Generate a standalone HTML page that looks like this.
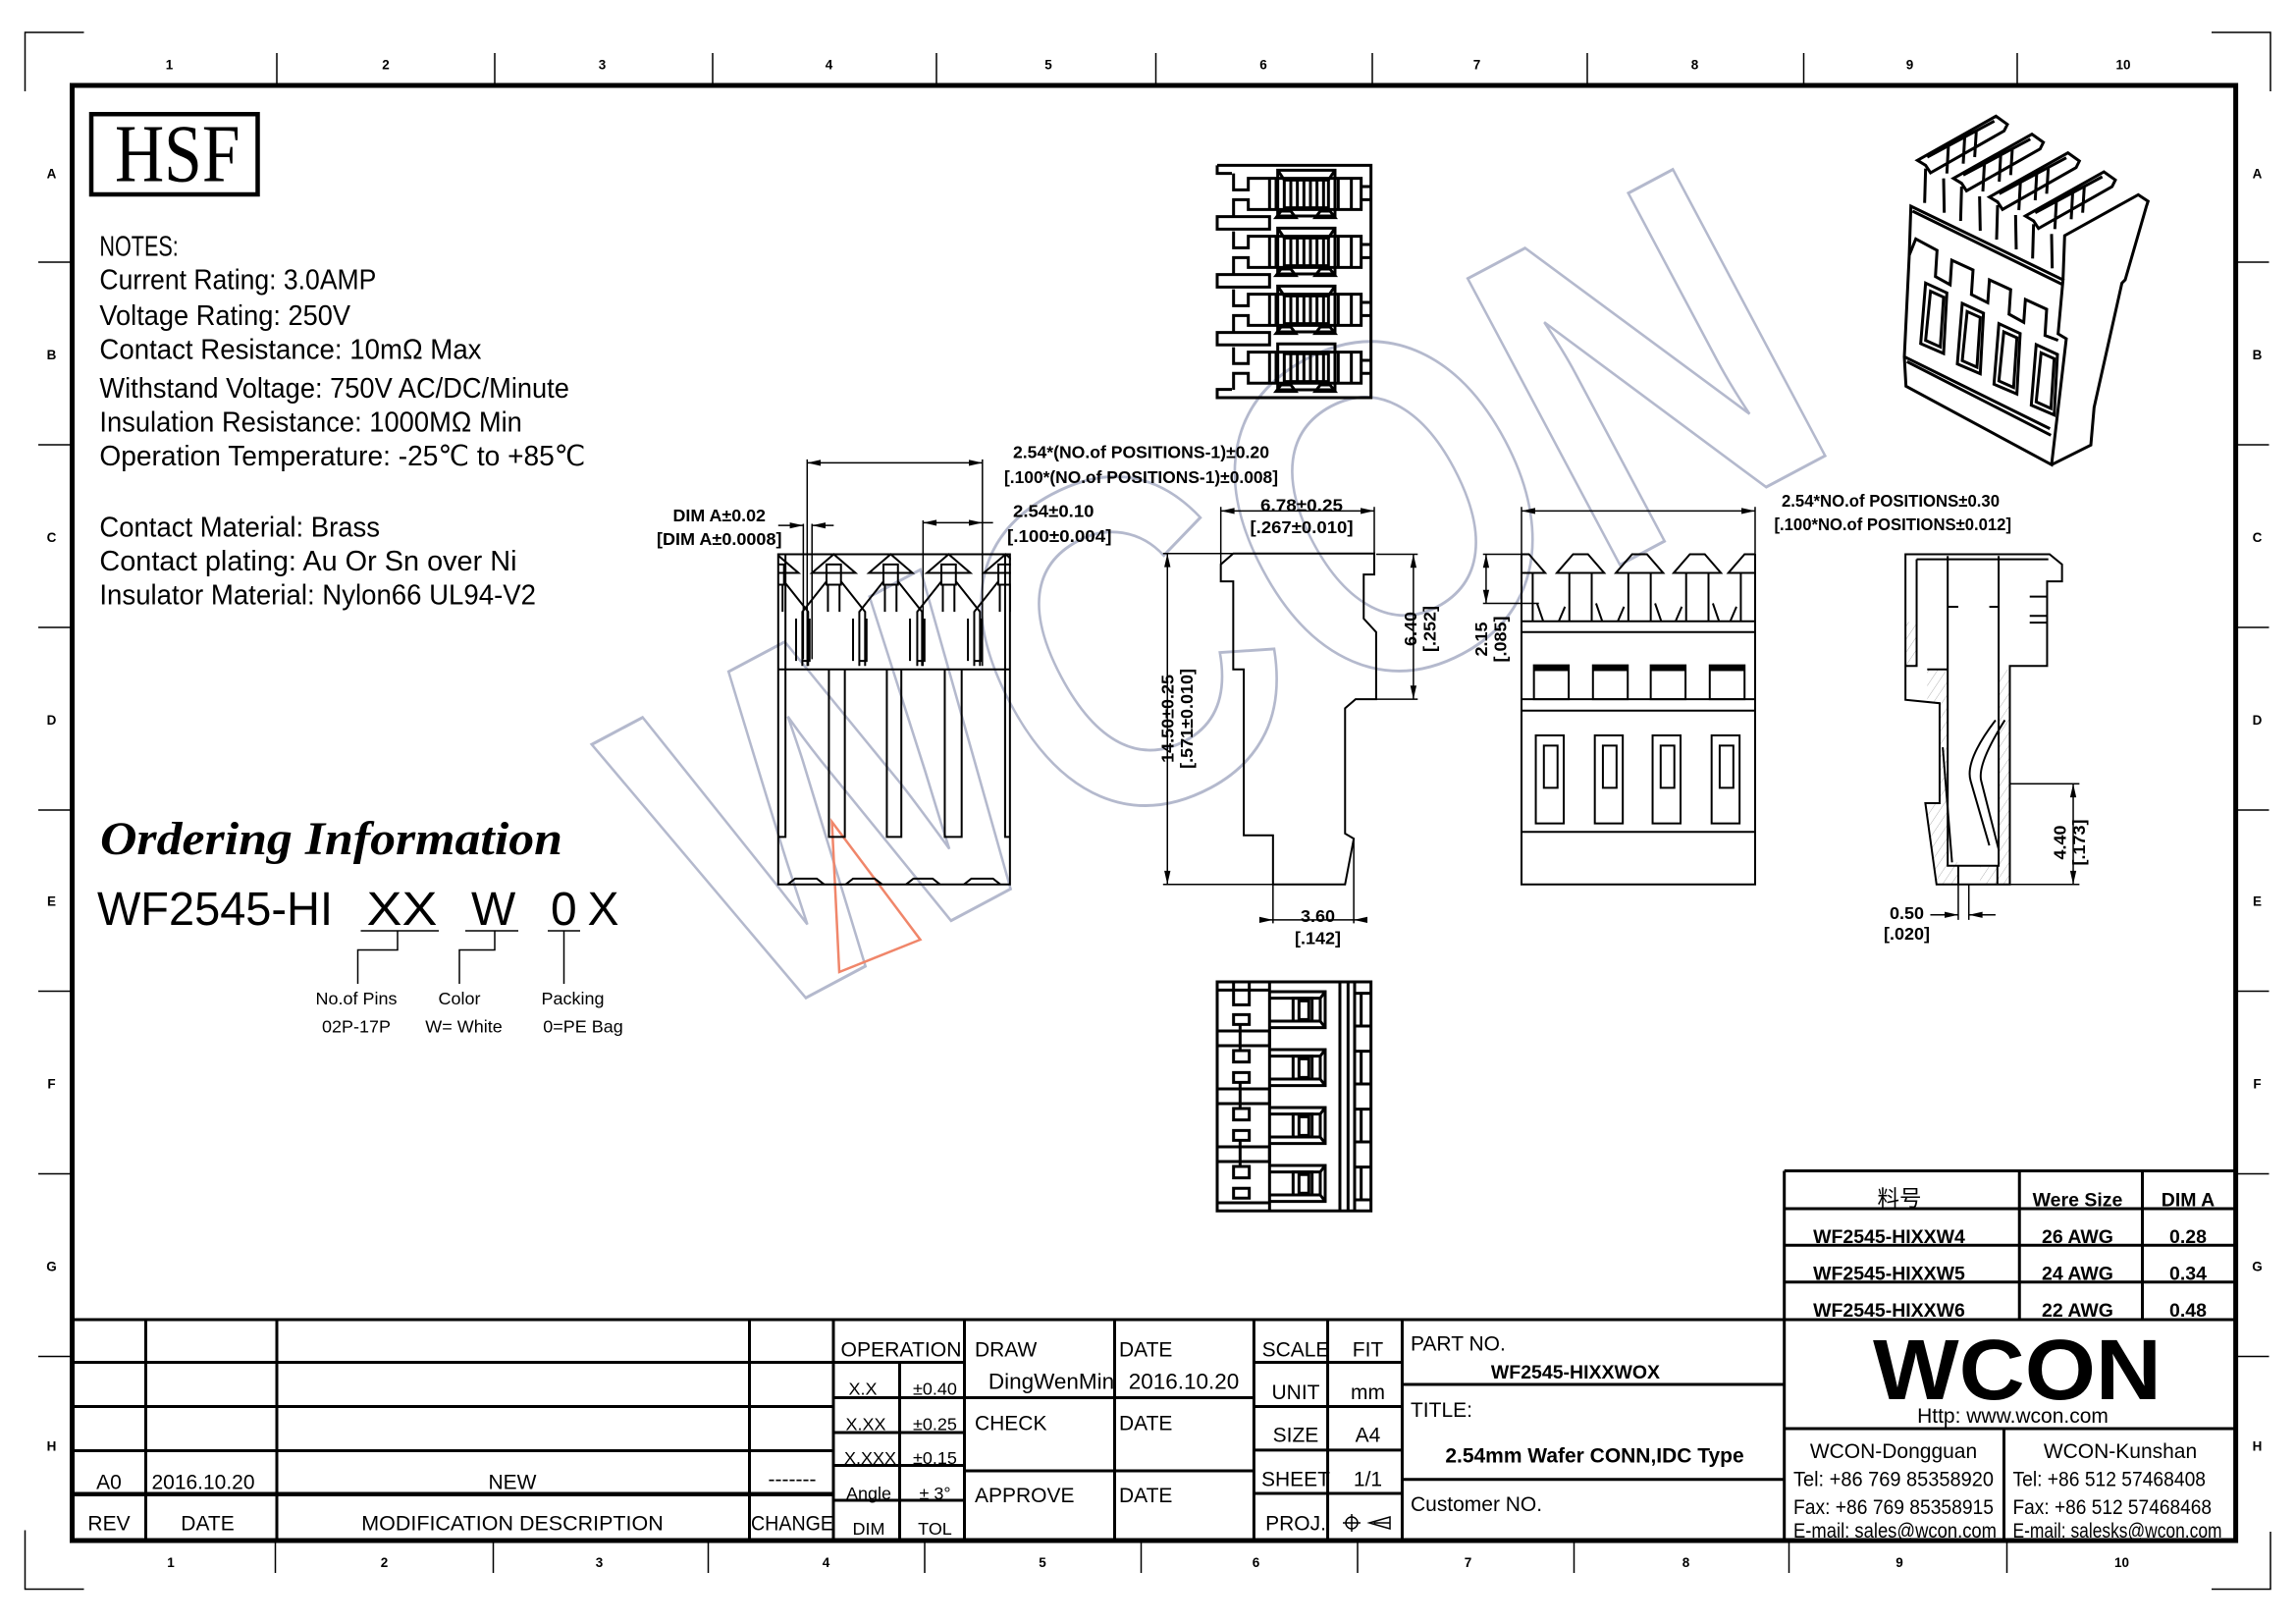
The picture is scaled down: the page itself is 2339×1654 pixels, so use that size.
<!DOCTYPE html>
<html><head><meta charset="utf-8">
<style>
html,body{margin:0;padding:0;background:#fff;}
svg{display:block;}
svg *{vector-effect:non-scaling-stroke;}
.l{fill:none;stroke:#000;stroke-width:2;}
.t{fill:none;stroke:#000;stroke-width:1.5;}
.k{fill:none;stroke:#000;stroke-width:3;}
.b{fill:#000;stroke:none;}
text{font-family:"Liberation Sans",sans-serif;fill:#000;stroke:none;}
.n{font-size:19px;}
.tb{font-size:14px;}
.dm{font-size:12px;font-weight:bold;}
.mo{font-family:"Liberation Mono",monospace;font-weight:bold;font-size:13px;}
.fr{font-family:"Liberation Serif",serif;font-weight:bold;font-size:9px;}
</style></head>
<body>
<svg width="2339" height="1654" viewBox="0 0 1559.33 1102.67" xmlns="http://www.w3.org/2000/svg">
<defs>
<pattern id="h" patternUnits="userSpaceOnUse" width="14" height="40" patternTransform="skewX(-20)">
<line x1="0" y1="0" x2="0" y2="40" stroke="#000" stroke-width="1"/>
</pattern>
<clipPath id="c4"><rect x="632" y="380" width="376" height="220"/></clipPath>
<clipPath id="c3"><rect x="270" y="380" width="482" height="360"/></clipPath>
</defs>

<!-- ===== FRAME ===== -->
<rect x="49" y="58" width="1469.4" height="988" class="l" style="stroke-width:5"/>
<path class="t" d="M17,62 V22 H57 M1542,62 V22 H1502 M17,1039 V1079 H57 M1542,1040 V1079 H1502"/>
<path class="t" d="M188,36 V58 M336,36 V58 M484,36 V58 M636,36 V58 M785,36 V58 M932,36 V58 M1078,36 V58 M1225,36 V58 M1370,36 V58"/>
<path class="t" d="M187,1046 V1068 M335,1046 V1068 M481,1046 V1068 M628,1046 V1068 M775,1046 V1068 M922,1046 V1068 M1069,1046 V1068 M1215,1046 V1068 M1363,1046 V1068"/>
<path class="t" d="M26,178 H49 M26,302 H49 M26,426 H49 M26,550 H49 M26,673 H49 M26,797 H49 M26,921 H49 M1518,178 H1541 M1518,302 H1541 M1518,426 H1541 M1518,550 H1541 M1518,673 H1541 M1518,797 H1541 M1518,921 H1541"/>
<g class="fr" text-anchor="middle">
<text x="115" y="47">1</text><text x="262" y="47">2</text><text x="409" y="47">3</text><text x="563" y="47">4</text><text x="712" y="47">5</text><text x="858" y="47">6</text><text x="1003" y="47">7</text><text x="1151" y="47">8</text><text x="1297" y="47">9</text><text x="1442" y="47">10</text>
<text x="116" y="1064">1</text><text x="261" y="1064">2</text><text x="407" y="1064">3</text><text x="561" y="1064">4</text><text x="708" y="1064">5</text><text x="853" y="1064">6</text><text x="997" y="1064">7</text><text x="1145" y="1064">8</text><text x="1290" y="1064">9</text><text x="1441" y="1064">10</text>
<text x="35" y="121">A</text><text x="35" y="244">B</text><text x="35" y="368">C</text><text x="35" y="492">D</text><text x="35" y="615">E</text><text x="35" y="739">F</text><text x="35" y="863">G</text><text x="35" y="985">H</text>
<text x="1533" y="121">A</text><text x="1533" y="244">B</text><text x="1533" y="368">C</text><text x="1533" y="492">D</text><text x="1533" y="615">E</text><text x="1533" y="739">F</text><text x="1533" y="863">G</text><text x="1533" y="985">H</text>
</g>

<!-- ===== HSF + NOTES ===== -->
<rect x="62" y="77.5" width="113" height="54.5" class="k" style="stroke-width:4.5"/>
<text x="78" y="123" style="font-family:'Liberation Serif',serif;font-size:56px" textLength="85" lengthAdjust="spacingAndGlyphs">HSF</text>
<g class="n">
<text x="67.6" y="173.6" textLength="53.6" lengthAdjust="spacingAndGlyphs">NOTES:</text>
<text x="67.6" y="196.5" textLength="188" lengthAdjust="spacingAndGlyphs">Current Rating: 3.0AMP</text>
<text x="67.6" y="220.7" textLength="170.4" lengthAdjust="spacingAndGlyphs">Voltage Rating: 250V</text>
<text x="67.6" y="243.7" textLength="259.4" lengthAdjust="spacingAndGlyphs">Contact Resistance: 10mΩ Max</text>
<text x="67.6" y="270" textLength="319" lengthAdjust="spacingAndGlyphs">Withstand Voltage: 750V AC/DC/Minute</text>
<text x="67.6" y="293" textLength="287" lengthAdjust="spacingAndGlyphs">Insulation Resistance: 1000MΩ Min</text>
<text x="67.6" y="316" textLength="330" lengthAdjust="spacingAndGlyphs">Operation Temperature: -25℃ to +85℃</text>
<text x="67.6" y="364.4" textLength="190.4" lengthAdjust="spacingAndGlyphs">Contact Material: Brass</text>
<text x="67.6" y="387.4" textLength="283.4" lengthAdjust="spacingAndGlyphs">Contact plating: Au Or Sn over Ni</text>
<text x="67.6" y="410.3" textLength="296.4" lengthAdjust="spacingAndGlyphs">Insulator Material: Nylon66 UL94-V2</text>
</g>

<!-- ===== ORDERING ===== -->
<text x="68" y="580" style="font-family:'Liberation Serif',serif;font-weight:bold;font-style:italic;font-size:32px" textLength="314" lengthAdjust="spacingAndGlyphs">Ordering Information</text>
<g style="font-family:'Liberation Serif',serif;font-size:32px">
<text x="66" y="628" textLength="160" lengthAdjust="spacingAndGlyphs">WF2545-HI</text>
<text x="249" y="628" textLength="48" lengthAdjust="spacingAndGlyphs">XX</text>
<text x="320" y="628">W</text>
<text x="374" y="628">0</text>
<text x="399" y="628">X</text>
</g>
<path class="t" d="M245,632 H298 M270,632 V645 H243 V668 M316,632 H352 M336,632 V645 H312 V668 M372,632 H394 M383,632 V668"/>
<g style="font-family:'Liberation Serif',serif;font-size:12px" text-anchor="middle">
<text x="242" y="682">No.of Pins</text><text x="242" y="701">02P-17P</text>
<text x="312" y="682">Color</text><text x="315" y="701">W= White</text>
<text x="389" y="682">Packing</text><text x="396" y="701">0=PE Bag</text>
</g>

<!-- ===== WATERMARK ===== -->
<text x="0" y="0" transform="translate(505,700) rotate(-28)" style="font-weight:bold;font-size:320px;fill:none;stroke:#b4b9cd;stroke-width:3" textLength="850" lengthAdjust="spacingAndGlyphs">WCON</text>
<polygon points="565,558 625,638 570,660" style="fill:none;stroke:#f0866a;stroke-width:2.5"/>

<!-- ===== FRONT VIEW (G3) ===== -->
<g transform="translate(440,286.67) scale(0.32787,0.22989)">
<rect x="270" y="390" width="480" height="975" class="l"/>
<path class="l" d="M270,730 H750 M285,390 V1225 H270 M740,390 V1225 H750"/>
<g clip-path="url(#c3)">
<g id="pin">
<path class="l" d="M340,445 L385,390 L430,445 Z M370,420 H400 V480 H370 Z M373,480 V560 M397,480 V560 M370,470 L320,560 V720 M400,470 L450,560 V720 M335,580 V705 H320 M425,580 V705"/>
</g>
<use href="#pin" x="-118"/><use href="#pin" x="118"/><use href="#pin" x="238"/><use href="#pin" x="356"/>
</g>
<path class="l" d="M375,730 V1225 H408 V730 M495,730 V1225 H525 V730 M615,730 V1225 H650 V730 M740,730 V1225"/>
<path class="l" d="M290,1365 L305,1348 H350 L365,1365 M410,1365 L425,1348 H470 L485,1365 M535,1365 L550,1348 H590 L605,1365 M655,1365 L670,1348 H715 L730,1365"/>
<!-- dims -->
<path class="t" d="M330,120 H693 M330,110 V720 M693,110 V720 M570,297 H715 M570,290 V720 M270,305 H322 M340,305 H385 M322,300 V700 M340,300 V700"/>
<polygon class="b" points="330,120 358,111 358,129"/><polygon class="b" points="693,120 665,111 665,129"/>
<polygon class="b" points="570,297 598,288 598,306"/><polygon class="b" points="693,297 665,288 665,306"/>
<polygon class="b" points="322,305 294,296 294,314"/><polygon class="b" points="340,305 368,296 368,314"/>
</g>
<g class="dm">
<text x="688" y="311" textLength="174" lengthAdjust="spacingAndGlyphs">2.54*(NO.of POSITIONS-1)±0.20</text>
<text x="682" y="328" textLength="186" lengthAdjust="spacingAndGlyphs">[.100*(NO.of POSITIONS-1)±0.008]</text>
<text x="457" y="354" textLength="63" lengthAdjust="spacingAndGlyphs">DIM A±0.02</text>
<text x="446" y="370" textLength="85" lengthAdjust="spacingAndGlyphs">[DIM A±0.0008]</text>
<text x="688" y="351" textLength="55" lengthAdjust="spacingAndGlyphs">2.54±0.10</text>
<text x="684" y="368" textLength="71" lengthAdjust="spacingAndGlyphs">[.100±0.004]</text>
</g>

<!-- ===== G4: side / third / section ===== -->
<g transform="translate(766.67,286.67) scale(0.42194,0.22989)">
<!-- side -->
<path class="l" d="M168,388 H395 V450 H378 V580 L398,620 V818 H365 L348,845 V1215 L362,1230 L348,1365 H232 V1220 H185 V730 H168 V470 H148 V420 Z"/>
<path class="t" d="M148,262 H395 M148,250 V420 M395,250 V388 M62,388 V1365 M55,388 H168 M55,1365 H232 M458,390 V818 M398,390 H465 M398,818 H465 M215,1470 H380 M232,1365 V1480 M362,1230 V1480"/>
<polygon class="b" points="148,262 170,253 170,271"/><polygon class="b" points="395,262 373,253 373,271"/>
<polygon class="b" points="62,388 57,428 67,428"/><polygon class="b" points="62,1365 57,1325 67,1325"/>
<polygon class="b" points="458,390 453,430 463,430"/><polygon class="b" points="458,818 453,778 463,778"/>
<polygon class="b" points="232,1470 210,1461 210,1479"/><polygon class="b" points="362,1470 384,1461 384,1479"/>
<!-- third view -->
<path class="l" d="M632,388 V1365 H1008 V388 M632,588 H1008 M632,620 H1008 M632,818 H1008 M632,852 H1008 M632,1210 H1008"/>
<g clip-path="url(#c4)">
<g id="lat"><path class="l" d="M689,445 L715,390 H739 L765,445 Z M709,445 V588 M745,445 V588 M692,588 L702,545 M762,588 L752,535"/></g>
<use href="#lat" x="-95"/><use href="#lat" x="95"/><use href="#lat" x="188"/><use href="#lat" x="276"/>
</g>
<g id="win"><rect x="652" y="718" width="56" height="100" class="l"/><rect x="652" y="718" width="56" height="17" class="b"/><rect x="655" y="925" width="45" height="260" class="l"/><rect x="668" y="955" width="22" height="125" class="l"/></g>
<use href="#win" x="95"/><use href="#win" x="188"/><use href="#win" x="283"/>
<path class="t" d="M632,262 H1008 M632,250 V388 M1008,250 V388 M575,390 V535 M570,390 H640 M570,535 H660"/>
<polygon class="b" points="632,262 654,253 654,271"/><polygon class="b" points="1008,262 986,253 986,271"/>
<polygon class="b" points="575,390 570,430 580,430"/><polygon class="b" points="575,535 570,495 580,495"/>
<!-- section -->
<rect x="1250" y="590" width="18" height="130" fill="url(#h)"/>
<polygon points="1285,730 1318,730 1318,1300 1335,1300 1335,1365 1300,1365 1282,1125 1305,1125 1305,830 1285,820" fill="url(#h)"/>
<polygon points="1400,730 1418,730 1418,1365 1370,1365 1370,1310 1400,1310" fill="url(#h)"/>
<path class="l" d="M1250,390 H1482 L1502,420 V470 H1478 V720 H1418 V1365 H1300 L1282,1125 H1305 V830 L1250,820 Z"/>
<path class="l" d="M1268,405 H1480 M1268,405 V720 H1250 M1318,395 V1310 H1400 V395 M1335,1310 V1365 M1398,1310 V1365 M1450,515 H1478 M1450,572 H1478 M1450,592 H1478 M1318,545 H1335 M1385,545 H1400 M1285,730 H1318"/>
<path class="l" d="M1395,880 Q1345,1000 1355,1060 L1385,1250 M1410,880 Q1365,1010 1372,1060 L1400,1262 M1310,960 L1325,1300"/>
<path class="t" d="M1520,1068 V1365 M1418,1068 H1530 M1418,1365 H1530 M1335,1365 V1470 M1352,1365 V1470 M1290,1455 H1335 M1352,1455 H1395"/>
<polygon class="b" points="1520,1068 1515,1108 1525,1108"/><polygon class="b" points="1520,1365 1515,1325 1525,1325"/>
<polygon class="b" points="1335,1455 1313,1446 1313,1464"/><polygon class="b" points="1352,1455 1374,1446 1374,1464"/>
</g>
<g class="dm">
<text x="856" y="347" textLength="56" lengthAdjust="spacingAndGlyphs">6.78±0.25</text>
<text x="849" y="362" textLength="70" lengthAdjust="spacingAndGlyphs">[.267±0.010]</text>
<text transform="translate(797,488) rotate(-90)" text-anchor="middle">14.50±0.25</text>
<text transform="translate(810,488) rotate(-90)" text-anchor="middle">[.571±0.010]</text>
<text transform="translate(962,427) rotate(-90)" text-anchor="middle">6.40</text>
<text transform="translate(975,427) rotate(-90)" text-anchor="middle">[.252]</text>
<text x="895" y="626" text-anchor="middle">3.60</text>
<text x="895" y="641" text-anchor="middle">[.142]</text>
<text x="1210" y="344" textLength="148" lengthAdjust="spacingAndGlyphs">2.54*NO.of POSITIONS±0.30</text>
<text x="1205" y="360" textLength="161" lengthAdjust="spacingAndGlyphs">[.100*NO.of POSITIONS±0.012]</text>
<text transform="translate(1010,434) rotate(-90)" text-anchor="middle">2.15</text>
<text transform="translate(1023,434) rotate(-90)" text-anchor="middle">[.085]</text>
<text transform="translate(1403,572) rotate(-90)" text-anchor="middle">4.40</text>
<text transform="translate(1416,572) rotate(-90)" text-anchor="middle">[.173]</text>
<text x="1295" y="624" text-anchor="middle">0.50</text>
<text x="1295" y="638" text-anchor="middle">[.020]</text>
</g>

<!-- ===== TOP VIEW (G5) ===== -->
<g transform="translate(820,100) scale(0.2222)">
<path class="k" d="M30,55 H500 V765 H30 V740 H75"/>
<path class="k" d="M30,55 V80 H75"/>
<g id="cell">
<path class="k" d="M80,80 V130 H125 V95 H470 V190 H125 V160 H80 V210 M470,120 H500 M470,160 H500 M190,95 V190 M210,95 V190 M400,95 V190 M440,95 V190"/>
<rect x="215" y="70" width="175" height="140" class="k"/>
<rect x="235" y="100" width="135" height="85" class="k"/>
<path class="k" d="M255,100 V185 M275,100 V185 M295,100 V185 M315,100 V185 M335,100 V185 M355,100 V185 M215,70 L235,100 M390,70 L370,100"/>
<path class="k" d="M210,215 L225,195 H255 L270,215 Z M330,215 L345,195 H375 L390,215 Z"/>
<rect x="30" y="212" width="160" height="38" class="k"/>
</g>
<use href="#cell" y="177"/><use href="#cell" y="354"/>
<g transform="translate(0,531)">
<path class="k" d="M80,80 V130 H125 V95 H470 V190 H125 V160 H80 V210 M470,120 H500 M470,160 H500 M190,95 V190 M210,95 V190 M400,95 V190 M440,95 V190"/>
<rect x="215" y="70" width="175" height="140" class="k"/><rect x="235" y="100" width="135" height="85" class="k"/>
<path class="k" d="M255,100 V185 M275,100 V185 M295,100 V185 M315,100 V185 M335,100 V185 M355,100 V185 M210,215 L225,195 H255 L270,215 Z M330,215 L345,195 H375 L390,215 Z"/>
</g>
</g>

<!-- ===== BOTTOM VIEW (G6) ===== -->
<g transform="translate(820,660) scale(0.2222)">
<rect x="30" y="30" width="470" height="700" class="k"/>
<path class="k" d="M190,30 V730 M405,30 V730 M430,30 V730 M450,30 V730 M30,55 H190 M30,705 H190"/>
<g id="bc">
<path class="k" d="M190,60 H360 V170 H190 M190,80 H345 L360,60 M345,80 V150 L360,170 M345,150 H190"/>
<rect x="262" y="80" width="58" height="70" class="k"/><rect x="280" y="88" width="30" height="57" class="k"/>
<path class="k" d="M450,65 H500 M450,165 H500 M470,65 V165"/>
<rect x="80" y="130" width="48" height="30" class="k"/><rect x="80" y="240" width="48" height="35" class="k"/>
<rect x="30" y="180" width="160" height="45" class="k"/><path class="k" d="M100,160 V240"/>
</g>
<use href="#bc" y="177"/><use href="#bc" y="354"/>
<g transform="translate(0,531)">
<path class="k" d="M190,60 H360 V170 H190 M190,80 H345 L360,60 M345,80 V150 L360,170 M345,150 H190"/>
<rect x="262" y="80" width="58" height="70" class="k"/><rect x="280" y="88" width="30" height="57" class="k"/>
<path class="k" d="M450,65 H500 M450,165 H500 M470,65 V165"/>
<rect x="80" y="130" width="48" height="30" class="k"/>
</g>
<rect x="80" y="30" width="48" height="70" class="k"/>
</g>

<!-- ===== 3D VIEW (G7) ===== -->
<g transform="translate(1286.67,66.67) scale(0.2222)">
<path class="k" d="M50,330 L515,555 L500,720 L525,735 L480,1120 L35,880 L30,790 L45,480 Z"/>
<path class="k" d="M515,555 L520,420 L745,295 L775,315 L770,330 L705,555 L695,565 L610,945 L600,1060 L480,1120"/>
<path class="k" d="M30,790 L475,1010 M38,805 L478,1030 M55,345 L515,570"/>
<path class="k" d="M45,480 L65,430 L130,465 L125,545 L170,570 L175,495 L240,525 L235,600 L285,625 L290,555 L355,585 L350,660 L395,685 L400,615 L465,645 L460,725 L500,740"/>
<g id="w3"><path class="k" d="M95,565 L160,595 L150,780 L80,750 Z M110,590 L150,608 L140,760 L95,740 Z"/></g>
<use href="#w3" x="112" y="62"/><use href="#w3" x="224" y="124"/><use href="#w3" x="338" y="188"/>
<g id="l3"><path class="k" d="M70,190 L310,55 L345,80 L335,100 L110,228 L95,205 Z M100,180 L305,70 M95,215 L92,320 M150,245 L152,350 M165,140 L160,230 M215,110 L210,200 M250,100 L245,180"/></g>
<use href="#l3" x="110" y="55"/><use href="#l3" x="220" y="112"/><use href="#l3" x="330" y="170"/>
</g>

<!-- ===== DIM A TABLE ===== -->
<path class="k" d="M1211.8,795 H1518.4 M1211.8,820.7 H1518.4 M1211.8,845.5 H1518.4 M1211.8,870.5 H1518.4 M1211.8,795 V1046 M1371.5,795 V896 M1455,795 V896"/>
<text x="1290" y="819" text-anchor="middle" style="font-family:'Liberation Sans','Noto Sans CJK SC',sans-serif;font-size:15px">料号</text>
<g class="mo" text-anchor="middle">
<text x="1411" y="819">Were Size</text><text x="1486" y="819">DIM A</text>
<text x="1283" y="844">WF2545-HIXXW4</text><text x="1411" y="844">26 AWG</text><text x="1486" y="844">0.28</text>
<text x="1283" y="869">WF2545-HIXXW5</text><text x="1411" y="869">24 AWG</text><text x="1486" y="869">0.34</text>
<text x="1283" y="894">WF2545-HIXXW6</text><text x="1411" y="894">22 AWG</text><text x="1486" y="894">0.48</text>
</g>

<!-- ===== TITLE BLOCK ===== -->
<path class="k" d="M49,896 H1518.4"/>
<path class="k" d="M49,925 H566 M49,955 H566 M49,985 H566 M99,896 V1046 M188,896 V1046 M509,896 V1046 M566,896 V1046 M655,896 V1046 M757,896 V1046 M851.6,896 V1046 M901.7,896 V1046 M952.3,896 V1046"/>
<path class="k" d="M49,1014.5 H566" style="stroke-width:4.5"/>
<path class="k" d="M566,925 H655 M566,949 H655 M566,972.7 H655 M566,995 H655 M566,1018.7 H655 M611,925 V1046"/>
<path class="k" d="M655,949 H851.6 M655,998.7 H851.6"/>
<path class="k" d="M851.6,925 H952.3 M851.6,955 H952.3 M851.6,984.6 H952.3 M851.6,1014 H952.3"/>
<path class="k" d="M952.3,940 H1211.8 M952.3,1004.5 H1211.8 M1211.8,970 H1518.4 M1361,970 V1046"/>
<g class="tb" text-anchor="middle">
<text x="74" y="1011">A0</text><text x="138" y="1011">2016.10.20</text><text x="348" y="1011">NEW</text><text x="538" y="1009">-------</text>
<text x="74" y="1039">REV</text><text x="141" y="1039">DATE</text><text x="348" y="1039" textLength="205" lengthAdjust="spacingAndGlyphs">MODIFICATION  DESCRIPTION</text><text x="538" y="1039" textLength="56" lengthAdjust="spacingAndGlyphs">CHANGE</text>
<text x="612" y="921" textLength="82" lengthAdjust="spacingAndGlyphs">OPERATION</text>
<text x="586" y="947" style="font-size:12px">X.X</text><text x="635" y="947" style="font-size:12px">±0.40</text>
<text x="588" y="971" style="font-size:12px">X.XX</text><text x="635" y="971" style="font-size:12px">±0.25</text>
<text x="591" y="994" style="font-size:12px">X.XXX</text><text x="635" y="994" style="font-size:12px">±0.15</text>
<text x="590" y="1018" style="font-size:12px">Angle</text><text x="635" y="1018" style="font-size:12px">± 3°</text>
<text x="590" y="1042" style="font-size:12px">DIM</text><text x="635" y="1042" style="font-size:12px">TOL</text>
<text x="714" y="943" style="font-size:15px">DingWenMin</text><text x="804" y="943" style="font-size:15px">2016.10.20</text>
<text x="880" y="921">SCALE</text><text x="929" y="921">FIT</text>
<text x="880" y="950">UNIT</text><text x="929" y="950">mm</text>
<text x="880" y="979">SIZE</text><text x="929" y="979">A4</text>
<text x="880" y="1009">SHEET</text><text x="929" y="1009">1/1</text>
<text x="880" y="1039">PROJ.</text>
<text x="1367" y="966" style="font-size:14px">Http: www.wcon.com</text>
<text x="1286" y="990">WCON-Dongguan</text><text x="1440" y="990">WCON-Kunshan</text>
</g>
<g class="tb">
<text x="662" y="921">DRAW</text><text x="662" y="971">CHECK</text><text x="662" y="1020">APPROVE</text>
<text x="760" y="921">DATE</text><text x="760" y="971">DATE</text><text x="760" y="1020">DATE</text>
<text x="958" y="917">PART NO.</text><text x="958" y="962">TITLE:</text><text x="958" y="1026">Customer NO.</text>
<text x="1218" y="1009" textLength="136" lengthAdjust="spacingAndGlyphs">Tel: +86 769 85358920</text>
<text x="1218" y="1028" textLength="136" lengthAdjust="spacingAndGlyphs">Fax: +86 769 85358915</text>
<text x="1218" y="1044" textLength="138" lengthAdjust="spacingAndGlyphs">E-mail: sales@wcon.com</text>
<text x="1367" y="1009" textLength="131" lengthAdjust="spacingAndGlyphs">Tel: +86 512 57468408</text>
<text x="1367" y="1028" textLength="135" lengthAdjust="spacingAndGlyphs">Fax: +86 512 57468468</text>
<text x="1367" y="1044" textLength="142" lengthAdjust="spacingAndGlyphs">E-mail: salesks@wcon.com</text>
</g>
<g class="mo" text-anchor="middle">
<text x="1070" y="936">WF2545-HIXXWOX</text>
<text x="1083" y="993" style="font-size:14px">2.54mm Wafer CONN,IDC Type</text>
</g>
<text x="1272" y="950" style="font-weight:bold;font-size:58px" textLength="196" lengthAdjust="spacingAndGlyphs">WCON</text>
<!-- projection symbol -->
<g class="t"><circle cx="918" cy="1034" r="4"/><path d="M912,1034 H924 M918,1028 V1040 M930,1034 L944,1030 V1038 Z M933,1034 H944"/></g>
</svg>
</body></html>
